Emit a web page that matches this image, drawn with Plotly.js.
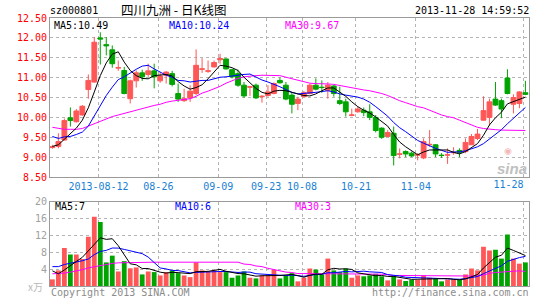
<!DOCTYPE html>
<html><head><meta charset="utf-8">
<script src="https://cdn.plot.ly/plotly-3.0.1.min.js"></script>
<style>html,body{margin:0;padding:0;background:#fff;}#chart{width:545px;height:300px;}</style>
</head><body><div id="chart"></div>
<script>
const dates = ['2013-07-31',
 '2013-08-01','2013-08-02','2013-08-05','2013-08-06','2013-08-07','2013-08-08','2013-08-09','2013-08-12','2013-08-13','2013-08-14',
 '2013-08-15','2013-08-16','2013-08-19','2013-08-20','2013-08-21','2013-08-22','2013-08-23','2013-08-26','2013-08-27','2013-08-28',
 '2013-08-29','2013-08-30','2013-09-02','2013-09-03','2013-09-04','2013-09-05','2013-09-06','2013-09-09','2013-09-10','2013-09-11',
 '2013-09-12','2013-09-13','2013-09-16','2013-09-17','2013-09-18','2013-09-23','2013-09-24','2013-09-25','2013-09-26','2013-09-27',
 '2013-09-30','2013-10-08','2013-10-09','2013-10-10','2013-10-11','2013-10-14','2013-10-15','2013-10-16','2013-10-17','2013-10-18',
 '2013-10-21','2013-10-22','2013-10-23','2013-10-24','2013-10-25','2013-10-28','2013-10-29','2013-10-30','2013-10-31','2013-11-01',
 '2013-11-04','2013-11-05','2013-11-06','2013-11-07','2013-11-08','2013-11-11','2013-11-12','2013-11-13','2013-11-14','2013-11-15',
 '2013-11-18','2013-11-19','2013-11-20','2013-11-21','2013-11-22','2013-11-25','2013-11-26','2013-11-27','2013-11-28'];

const openP = [9.24,9.27,9.43,9.99,9.89,10.06,10.70,10.89,12.00,11.83,
 11.70,11.24,11.18,10.47,10.92,11.12,11.08,11.17,10.92,11.06,
 11.10,10.60,10.42,10.49,10.60,11.21,11.16,11.27,11.45,11.47,
 11.20,11.10,10.81,10.76,10.81,10.52,10.55,10.60,10.93,10.81,
 10.56,10.35,10.52,10.60,10.81,10.76,10.68,10.79,10.42,10.39,
 10.05,10.14,10.18,10.14,10.00,9.73,9.52,9.60,9.07,9.14,
 9.10,9.05,8.98,9.31,9.31,9.05,9.05,9.11,9.17,9.14,
 9.31,9.47,9.93,10.00,10.46,10.42,10.99,10.33,10.35,10.62];
const highP = [9.31,9.60,9.97,10.25,10.21,10.31,11.08,12.02,12.14,12.02,
 11.81,11.43,11.27,10.95,11.18,11.20,11.35,11.35,11.14,11.16,
 11.17,10.85,10.72,10.81,11.71,11.49,11.43,11.43,11.60,11.48,
 11.22,11.20,10.89,10.78,10.85,10.56,10.81,10.88,11.00,10.89,
 10.64,10.52,10.66,10.85,10.98,10.93,10.89,10.81,10.77,10.47,
 10.22,10.27,10.25,10.33,10.06,9.75,9.68,9.77,9.22,9.17,
 9.14,9.10,9.47,9.68,9.33,9.10,9.22,9.25,9.22,9.47,
 9.58,9.71,10.53,10.47,10.89,10.47,11.21,10.58,10.66,10.92];
const lowP = [9.21,9.22,9.42,9.77,9.87,10.04,10.47,10.87,11.33,11.56,
 11.25,11.17,10.58,10.35,10.75,10.92,11.02,10.73,10.87,10.85,
 10.78,10.39,10.39,10.39,10.56,11.12,11.12,11.25,11.35,11.20,
 10.98,10.77,10.49,10.54,10.46,10.37,10.52,10.58,10.85,10.43,
 10.10,10.18,10.52,10.58,10.68,10.62,10.47,10.52,10.31,10.02,
 10.03,10.12,10.03,9.93,9.62,9.46,9.52,8.79,8.97,9.00,
 9.00,8.92,8.95,9.26,9.00,8.98,8.83,9.06,9.00,9.10,
 9.31,9.43,9.92,9.79,10.29,9.98,10.58,10.10,10.23,10.56];
const closeP = [9.26,9.39,9.92,9.92,10.16,10.28,10.93,11.89,11.97,11.80,
 11.35,11.25,10.60,10.92,11.12,11.02,11.17,11.02,11.04,11.14,
 10.83,10.46,10.47,10.66,11.31,11.22,11.17,11.38,11.48,11.22,
 11.02,10.81,10.54,10.77,10.49,10.53,10.64,10.85,10.87,10.46,
 10.33,10.46,10.62,10.81,10.71,10.75,10.81,10.60,10.35,10.14,
 10.06,10.21,10.12,10.00,9.67,9.50,9.62,9.04,9.08,9.08,
 9.03,9.06,9.39,9.32,9.08,9.04,9.06,9.12,9.12,9.37,
 9.52,9.58,10.17,10.39,10.31,10.21,10.60,10.50,10.64,10.58];

const ma5 = [9.27,9.31,9.45,9.60,9.73,9.93,10.24,10.64,11.05,11.37,
 11.59,11.65,11.39,11.18,11.05,10.98,10.97,11.05,11.07,11.08,
 11.04,10.90,10.79,10.71,10.75,10.82,10.97,11.15,11.31,11.29,
 11.25,11.18,11.01,10.87,10.73,10.63,10.59,10.66,10.68,10.67,
 10.63,10.59,10.55,10.54,10.59,10.67,10.74,10.74,10.64,10.53,
 10.39,10.27,10.18,10.11,10.01,9.90,9.78,9.57,9.38,9.26,
 9.17,9.06,9.13,9.18,9.18,9.18,9.18,9.12,9.08,9.14,
 9.24,9.34,9.55,9.81,9.99,10.13,10.34,10.40,10.45,10.51];
const ma10 = [9.52,9.47,9.51,9.52,9.57,9.63,9.78,10.04,10.30,10.55,
 10.76,10.95,11.02,11.12,11.21,11.29,11.31,11.22,11.13,11.06,
 11.01,10.93,10.92,10.89,10.91,10.93,10.93,10.97,11.01,11.02,
 11.04,11.07,11.08,11.09,11.01,10.94,10.89,10.84,10.77,10.70,
 10.63,10.59,10.60,10.61,10.63,10.65,10.67,10.64,10.59,10.56,
 10.53,10.51,10.46,10.38,10.27,10.15,10.03,9.87,9.74,9.64,
 9.54,9.42,9.35,9.28,9.22,9.17,9.12,9.13,9.13,9.16,
 9.21,9.26,9.34,9.45,9.57,9.69,9.84,9.98,10.13,10.25];
const ma30 = [9.75,9.72,9.70,9.70,9.70,9.72,9.78,9.85,9.91,9.97,
 10.02,10.06,10.10,10.14,10.19,10.22,10.26,10.30,10.33,10.38,
 10.41,10.43,10.45,10.47,10.53,10.61,10.66,10.72,10.78,10.86,
 10.93,10.98,11.02,11.04,11.05,11.06,11.06,11.06,11.05,11.01,
 10.97,10.93,10.89,10.86,10.85,10.85,10.84,10.83,10.80,10.77,
 10.74,10.72,10.69,10.67,10.64,10.60,10.55,10.48,10.42,10.37,
 10.31,10.27,10.24,10.18,10.11,10.06,10.02,9.99,9.93,9.87,
 9.81,9.75,9.72,9.70,9.69,9.68,9.68,9.67,9.67,9.67];

const volume = [1.57,3.7,9.0,7.45,7.45,6.4,11.7,16.4,15.2,5.6,
 7.2,3.45,5.9,4.2,4.4,2.75,3.45,3.3,2.5,3.3,
 3.7,3.05,2.5,2.1,5.6,3.7,3.45,3.7,3.3,3.3,
 1.96,2.5,3.45,1.96,1.8,2.5,2.5,3.85,1.8,2.5,
 3.05,1.1,1.96,4.15,3.9,2.75,6.5,3.7,3.3,4.15,
 1.96,2.5,2.3,2.5,2.9,2.3,1.33,2.3,1.57,1.18,
 1.5,1.5,2.5,1.96,1.73,1.1,1.57,1.5,1.5,2.75,
 4.15,3.7,9.3,8.4,8.6,6.5,12.2,6.5,5.3,5.6];
const volMa5 = [3.6,2.9,3.8,4.9,5.83,6.8,8.4,9.88,11.43,11.06,
 11.22,9.57,7.47,5.27,5.03,4.14,4.14,3.62,3.28,3.06,
 3.25,3.17,3.01,2.93,3.39,3.39,3.47,3.71,3.95,3.49,
 3.14,2.95,2.90,2.63,2.33,2.44,2.44,2.52,2.49,2.63,
 2.74,2.46,2.08,2.55,2.83,2.77,3.85,4.2,4.03,4.08,
 3.92,3.12,2.84,2.68,2.43,2.5,2.27,2.27,2.08,1.74,
 1.58,1.61,1.65,1.73,1.84,1.76,1.77,1.57,1.48,1.68,
 2.29,2.72,4.28,5.66,6.83,7.3,9.0,8.44,7.82,7.22];
const volMa10 = [4.6,4.6,5.1,5.4,5.6,6.0,6.4,7.45,8.2,8.45,
 9.01,8.99,8.68,8.35,8.05,7.68,6.86,5.55,4.28,4.05,
 3.70,3.66,3.32,3.11,3.23,3.32,3.32,3.36,3.44,3.44,
 3.27,3.21,3.31,3.29,2.91,2.79,2.70,2.71,2.56,2.48,
 2.59,2.45,2.30,2.52,2.73,2.76,3.16,3.14,3.29,3.46,
 3.35,3.49,3.52,3.36,3.26,3.21,2.69,2.55,2.38,2.08,
 2.04,1.94,1.96,1.90,1.79,1.67,1.69,1.61,1.60,1.76,
 2.03,2.25,2.93,3.57,4.26,4.80,5.86,6.36,6.74,7.03];
const volMa30 = [2.9,2.9,3.05,3.3,3.5,3.85,4.3,4.6,4.85,5.1,
 5.35,5.5,5.55,5.6,5.65,5.65,5.65,5.65,5.65,5.65,
 5.65,5.65,5.65,5.65,5.65,5.65,5.65,5.65,5.65,5.65,
 5.65,5.65,5.2,5.1,4.75,4.6,4.2,3.9,3.7,3.3,
 3.2,2.95,2.95,2.95,2.95,2.95,2.95,2.95,2.95,2.95,
 2.95,2.95,2.9,2.85,2.85,2.8,2.7,2.5,2.5,2.5,
 2.5,2.5,2.5,2.5,2.5,2.35,2.35,2.35,2.35,2.35,
 2.35,2.35,2.6,3.0,3.2,3.3,3.4,3.45,3.6,3.45];

const tickIndex = [8,18,28,36,42,51,61,79];
const tickLabels = ['2013-08-12','08-26','09-09','09-23','10-08','10-21','11-04','11-28'];
const priceTicks = [8.5,9,9.5,10,10.5,11,11.5,12,12.5];
const volTicks = [4,8,12,16,20];

const RED = '#ff5757', GREEN = '#00a400';
const MONO = 'DejaVu Sans Mono, Liberation Mono, monospace';
const idx = dates.map((d,i)=>i);
const gridPos = tickIndex.map(i=>i-0.3);
const nT = tickLabels.length;
// all labels but the last are centred on their grid line; the last one ends at its grid line
const mainText = tickLabels.map((t,i)=> i === nT-1 ? '' : t);
const volColors = closeP.map((c,i)=> c >= openP[i] ? RED : GREEN);

const L=50, R=529, T=18, B=286;
const px = x => (x-L)/(R-L);
const py = y => (B-y)/(B-T);

const lineTrace = (y, color, xa, ya) => ({type:'scatter', mode:'lines', x:idx, y:y, xaxis:xa, yaxis:ya,
  line:{color:color, width:1}, hoverinfo:'skip'});

const traces = [
  {type:'candlestick', x:idx, open:openP, high:highP, low:lowP, close:closeP, xaxis:'x', yaxis:'y',
   increasing:{line:{color:RED, width:1}, fillcolor:RED},
   decreasing:{line:{color:GREEN, width:1}, fillcolor:GREEN},
   whiskerwidth:0, hoverinfo:'skip'},
  lineTrace(ma30, '#ff00ff', 'x', 'y'),
  lineTrace(ma10, '#0000ff', 'x', 'y'),
  lineTrace(ma5, '#000000', 'x', 'y'),
  {type:'bar', x:idx, y:volume, xaxis:'x2', yaxis:'y2', marker:{color:volColors, line:{width:0}}, hoverinfo:'skip'},
  lineTrace(volMa30, '#ff00ff', 'x2', 'y2'),
  lineTrace(volMa10, '#0000ff', 'x2', 'y2'),
  lineTrace(volMa5, '#000000', 'x2', 'y2'),
  {type:'scatter', mode:'lines', x:[], y:[], xaxis:'x3', yaxis:'y', hoverinfo:'skip'}
];

const axX = {range:[-0.4,79.6], showgrid:true, gridcolor:'#b4b4b4', griddash:'dot', gridwidth:1,
  tickvals:gridPos, ticks:'', zeroline:false, showline:true, linecolor:'#9a9a9a', linewidth:1,
  mirror:true, fixedrange:true};
const xFont = {family:MONO, size:10, color:'#1a7fd4'};

const ann = (text, x, y, color, size, anchor, family) => ({text:text, xref:'paper', yref:'paper',
  x:px(x), y:py(y), xanchor:anchor||'left', yanchor:'middle', showarrow:false,
  font:{family:family||MONO, size:size||10, color:color}});

const layout = {
  width:545, height:300, margin:{l:L, r:545-R, t:T, b:300-B},
  paper_bgcolor:'#ffffff', plot_bgcolor:'#ffffff', showlegend:false,
  boxgap:0.2, boxgroupgap:0, bargap:0.2,
  xaxis: Object.assign({}, axX, {anchor:'y', domain:[0,1], rangeslider:{visible:false},
    ticktext:mainText, tickfont:xFont}),
  xaxis3: {overlaying:'x', anchor:'y', range:[-0.4,79.6], tickvals:[gridPos[nT-1]], ticktext:[tickLabels[nT-1]],
    ticklabelposition:'outside left', tickfont:xFont, showgrid:false, showline:false, zeroline:false,
    ticks:'', fixedrange:true},
  yaxis: {domain:[py(177),1], range:[8.5,12.5], tickvals:priceTicks, ticktext:priceTicks.map(v=>v.toFixed(2)),
    tickfont:{family:MONO, size:10, color:'#ff0000'}, showgrid:true, gridcolor:'#b4b4b4', griddash:'dot',
    ticks:'', zeroline:false, showline:true, linecolor:'#9a9a9a', mirror:true, anchor:'x', fixedrange:true},
  xaxis2: Object.assign({}, axX, {anchor:'y2', domain:[0,1], showticklabels:false}),
  yaxis2: {domain:[0,py(201.7)], range:[0,20], tickvals:volTicks, ticktext:volTicks.map(String),
    tickfont:{family:MONO, size:10, color:'#a0a0a0'}, showgrid:true, gridcolor:'#b4b4b4', griddash:'dot',
    ticks:'', zeroline:false, showline:true, linecolor:'#9a9a9a', mirror:true, anchor:'x2', fixedrange:true},
  annotations:[
    ann('sz000801', 48, 10.5, '#000000', 10),
    ann('四川九洲 - 日K线图', 119, 10, '#000000', 12.5, 'left', 'Noto Sans CJK SC'),
    ann('2013-11-28 14:59:52', 531, 10.5, '#000000', 10, 'right'),
    ann('MA5:10.49', 52, 25, '#000000', 10),
    ann('MA10:10.24', 167, 25, '#0000ff', 10),
    ann('MA30:9.67', 283, 25, '#ff00ff', 10),
    ann('MA5:7', 53, 206.5, '#000000', 10),
    ann('MA10:6', 173, 206.5, '#0000ff', 10),
    ann('MA30:3', 293, 206.5, '#ff00ff', 10),
    ann('x万', 45, 286, '#b8b8b8', 10, 'right', 'Noto Sans CJK SC'),
    ann('Copyright 2013 SINA.COM', 49, 292.5, '#8c8c8c', 10),
    ann('http://finance.sina.com.cn', 531, 292.5, '#8c8c8c', 10, 'right'),
    ann('◉', 508, 151, '#f2b8b8', 9, 'center', 'DejaVu Sans'),
    ann('<b><i>sina</i></b>', 512, 168, '#c0c0c0', 15, 'center', 'Liberation Sans')
  ]
};

Plotly.newPlot('chart', traces, layout, {staticPlot:true, displayModeBar:false});
</script></body></html>
